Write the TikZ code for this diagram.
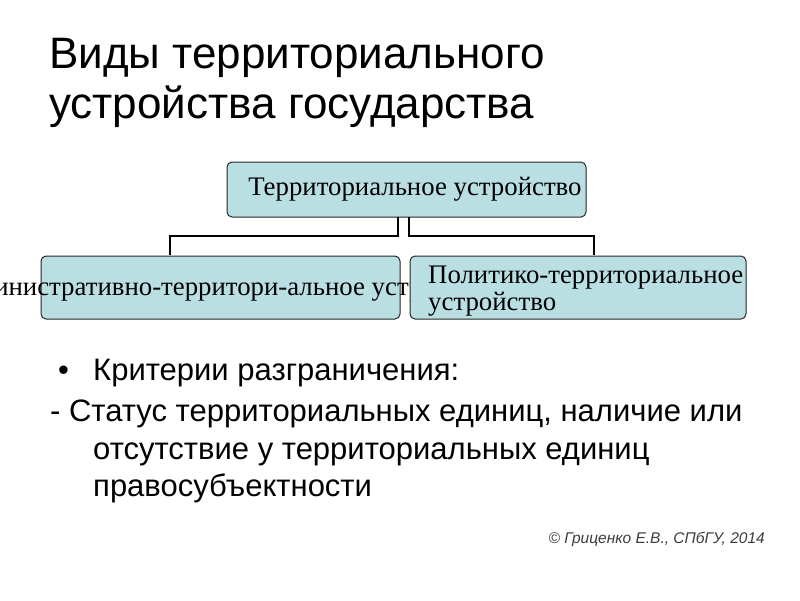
\documentclass[tikz,border=0pt]{standalone}
\usepackage{fontspec}
\setmainfont{Liberation Serif}
\newfontfamily\sansf{Liberation Sans}
\definecolor{boxfill}{RGB}{186,223,227}
\definecolor{copyc}{RGB}{60,60,60}
\begin{document}
\begin{tikzpicture}[x=1pt,y=-1pt,
  box/.style={draw=black!85,line width=1pt,fill=boxfill,rounded corners=5pt,inner sep=0pt},
  conn/.style={draw=black,line width=2pt},
  boxtext/.style={font=\fontsize{26.8}{27}\selectfont,inner sep=0pt},
  bodytext/.style={font=\sansf\fontsize{31}{36}\selectfont,anchor=base west,inner sep=0pt},
  titletext/.style={font=\sansf\fontsize{44}{50}\selectfont,anchor=base west,inner sep=0pt}]
\useasboundingbox (0,0) rectangle (800,600);
\begin{scope}
\clip (0,0) rectangle (800,600);
% title
\node[titletext] (t1) at (49,68) {Виды территориального};
\node[titletext] (t2) at (49,118) {устройства государства};
% boxes
\node[box,minimum width=359pt,minimum height=55pt] (top) at (406.5,189.5) {};
\node[boxtext] (toptxt) at (415,189) {Территориальное устройство};
\node[box,minimum width=359pt,minimum height=63pt] (left) at (220.5,287.5) {};
\node[boxtext] (lefttxt) at (222,289) {Административно-территори-альное устройство};
\node[box,minimum width=336pt,minimum height=63pt] (right) at (578,287.5) {};
\node[boxtext,align=left,anchor=north west] (righttxt) at (428,266) {Политико-территориальное\\устройство};
% connectors
\coordinate (c1) at (398,217);
\coordinate (c2) at (409,217);
\draw[conn] (c1) -- (398,236) -- (170,236) -- (170,255);
\draw[conn] (c2) -- (409,236) -- (594,236) -- (594,255);
% body
\node[bodytext] (bul) at (58,380) {•};
\node[bodytext] (b1) at (93,380) {Критерии разграничения:};
\node[bodytext] (b2) at (50,421) {- Статус территориальных единиц, наличие или};
\node[bodytext] (b3) at (93,459) {отсутствие у территориальных единиц};
\node[bodytext] (b4) at (93,496) {правосубъектности};
% copyright
\node[font=\sansf\itshape\fontsize{15.5}{18}\selectfont,text=copyc,anchor=base east,inner sep=0pt] (copy) at (765,543) {© Гриценко Е.В., СПбГУ, 2014};
\end{scope}
\end{tikzpicture}
\end{document}
